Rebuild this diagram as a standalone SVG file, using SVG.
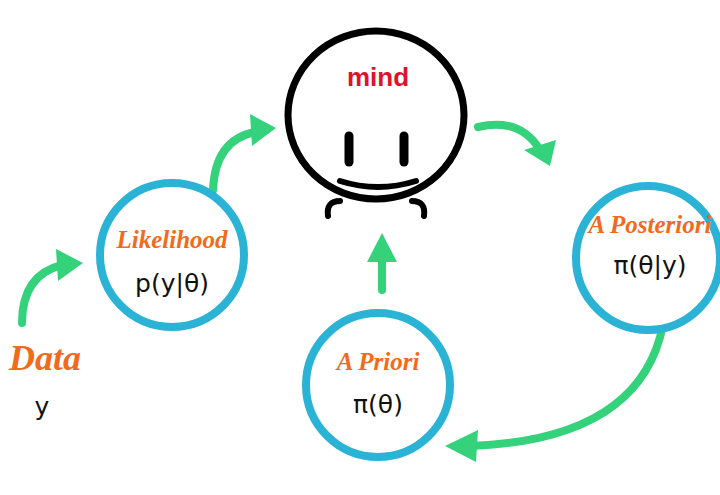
<svg xmlns="http://www.w3.org/2000/svg" width="720" height="495" viewBox="0 0 720 495">
<style>
.node{fill:#fff;stroke:#2bb3d6;stroke-width:8}
.lab{font-family:"Liberation Serif",serif;font-style:italic;fill:#f26a1b;text-anchor:middle}
.math{font-family:"DejaVu Sans",sans-serif;fill:#111;text-anchor:middle;font-size:25px}
.arr{fill:none;stroke:#34d27b;stroke-width:8;stroke-linecap:round}
.head{fill:#34d27b}
</style>
<rect width="720" height="495" fill="#fff"/>
<g id="connectors">
<path class="arr" d="M22,323 Q22,275 62,265"/><polygon class="head" points="83,263 56,249 58,281"/>
<path class="arr" d="M213,190 Q215,140 255,132"/><polygon class="head" points="276,128 250,114 252,146"/>
<path class="arr" d="M478,127 Q520,117 540,150"/><polygon class="head" points="550,166 524,150 556,140"/>
<path class="arr" d="M382,290 L382,258"/><polygon class="head" points="382,233 367,262 397,262"/>
<path class="arr" d="M663,325 Q640,440 470,446"/><polygon class="head" points="445,446 478,430 476,462"/>
</g>
<g id="mind">
<path d="M340,201 Q326,201 328,216 M412,201 Q426,201 424,216" fill="none" stroke="#000" stroke-width="6" stroke-linecap="round"/>
<ellipse cx="376" cy="115" rx="88" ry="84" fill="#fff" stroke="#000" stroke-width="7"/>
<line x1="349" y1="136" x2="349" y2="162" stroke="#000" stroke-width="9" stroke-linecap="round"/>
<line x1="404" y1="136" x2="404" y2="162" stroke="#000" stroke-width="9" stroke-linecap="round"/>
<path d="M340,181 Q378,193 416,181" fill="none" stroke="#000" stroke-width="6" stroke-linecap="round"/>
<text x="378" y="86" font-family="Liberation Sans,sans-serif" font-weight="bold" font-size="26" fill="#e2122c" text-anchor="middle">mind</text>
</g>
<g id="likelihood">
<circle class="node" cx="172" cy="255" r="72"/>
<text class="lab" x="172" y="248" font-size="25" font-weight="bold">Likelihood</text>
<text class="math" x="172" y="292">p(y|θ)</text>
</g>
<g id="posteriori">
<circle class="node" cx="648" cy="258" r="72"/>
<text class="lab" x="650" y="233" font-size="25" font-weight="bold">A Posteriori</text>
<text class="math" x="650" y="274">π(θ|y)</text>
</g>
<g id="priori">
<circle class="node" cx="378" cy="385" r="72"/>
<text class="lab" x="378" y="370" font-size="25" font-weight="bold">A Priori</text>
<text class="math" x="378" y="413">π(θ)</text>
</g>
<g id="data">
<text class="lab" x="45" y="370" font-size="36" font-weight="bold">Data</text>
<text class="math" x="42" y="415">y</text>
</g>
</svg>
